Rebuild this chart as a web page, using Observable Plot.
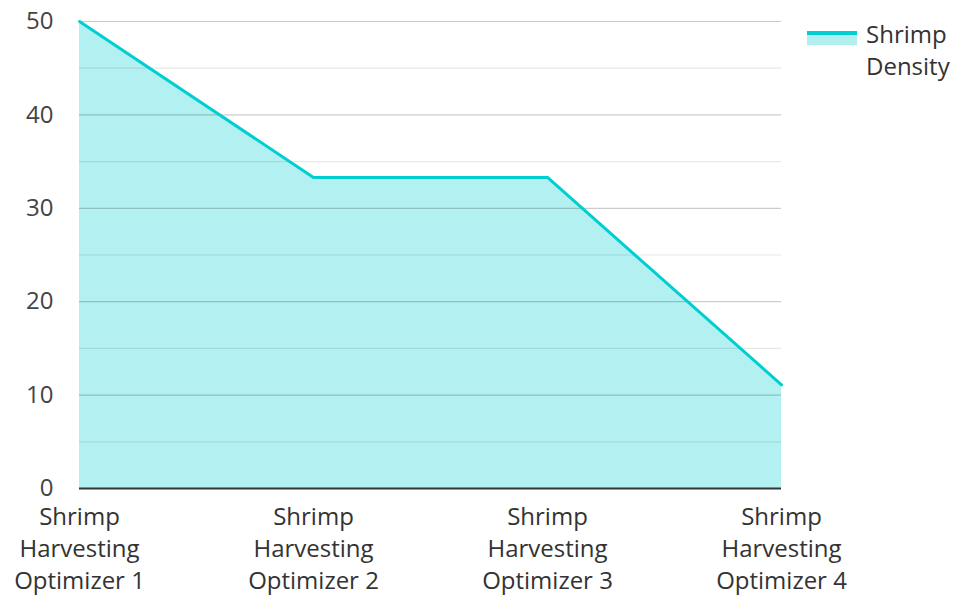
<!DOCTYPE html>
<html>
<head>
<meta charset="utf-8">
<script src="https://cdn.jsdelivr.net/npm/d3@7"></script>
<script src="https://cdn.jsdelivr.net/npm/@observablehq/plot@0.6"></script>
<style>
  html, body { margin: 0; padding: 0; background: #fff; }
  #wrap { position: relative; width: 955px; height: 595px; font-family: "Open Sans", "Noto Sans", sans-serif; }
  #legend { position: absolute; left: 807px; top: 18px; display: flex; align-items: flex-start; color: #333; font-size: 24px; line-height: 32px; }
  #legend .sw { width: 50px; height: 14px; margin-top: 13px; margin-right: 9px; position: relative; background: #b2efee; }
  #legend .sw::before { content: ""; position: absolute; left: 0; right: 0; top: 0; height: 4px; background: #00ced1; }
</style>
</head>
<body>
<div id="wrap"><div id="chart"></div>
<div id="legend"><div class="sw"></div><div>Shrimp<br>Density</div></div>
</div>
<script>
const categories = ["Shrimp\nHarvesting\nOptimizer 1", "Shrimp\nHarvesting\nOptimizer 2", "Shrimp\nHarvesting\nOptimizer 3", "Shrimp\nHarvesting\nOptimizer 4"];
const density = [50, 33.3, 33.3, 11.1];
const yTicks = [0, 10, 20, 30, 40, 50];
const yMinor = [5, 15, 25, 35, 45];

const data = categories.map((c, i) => ({cat: c, v: density[i]}));

const chart = Plot.plot({
  width: 955,
  height: 595,
  marginLeft: 79,
  marginRight: 174,
  marginTop: 21,
  marginBottom: 107,
  style: {fontFamily: "'Open Sans', 'Noto Sans', sans-serif", fontSize: "24px", color: "#444", background: "#fff"},
  x: {type: "point", domain: categories, padding: 0},
  y: {domain: [0, 50]},
  marks: [
    Plot.areaY(data, {x: "cat", y: "v", fill: "#00ced1", fillOpacity: 0.3}),
    Plot.ruleY(yMinor, {stroke: "#000", strokeOpacity: 0.09, strokeWidth: 1.2}),
    Plot.ruleY(yTicks.filter(d => d > 0), {stroke: "#000", strokeOpacity: 0.2, strokeWidth: 1.2}),
    Plot.lineY(data, {x: "cat", y: "v", stroke: "#00ced1", strokeWidth: 3}),
    Plot.ruleY([0], {stroke: "#333", strokeWidth: 2}),
    Plot.axisY({ticks: yTicks, tickSize: 0, tickPadding: 26, fontSize: 24, label: null, fill: "#444"}),
    Plot.axisX({tickSize: 0, tickPadding: 14, fontSize: 24, lineHeight: 1.333, label: null, fill: "#333"})
  ]
});
document.getElementById("chart").appendChild(chart);
</script>
</body>
</html>
